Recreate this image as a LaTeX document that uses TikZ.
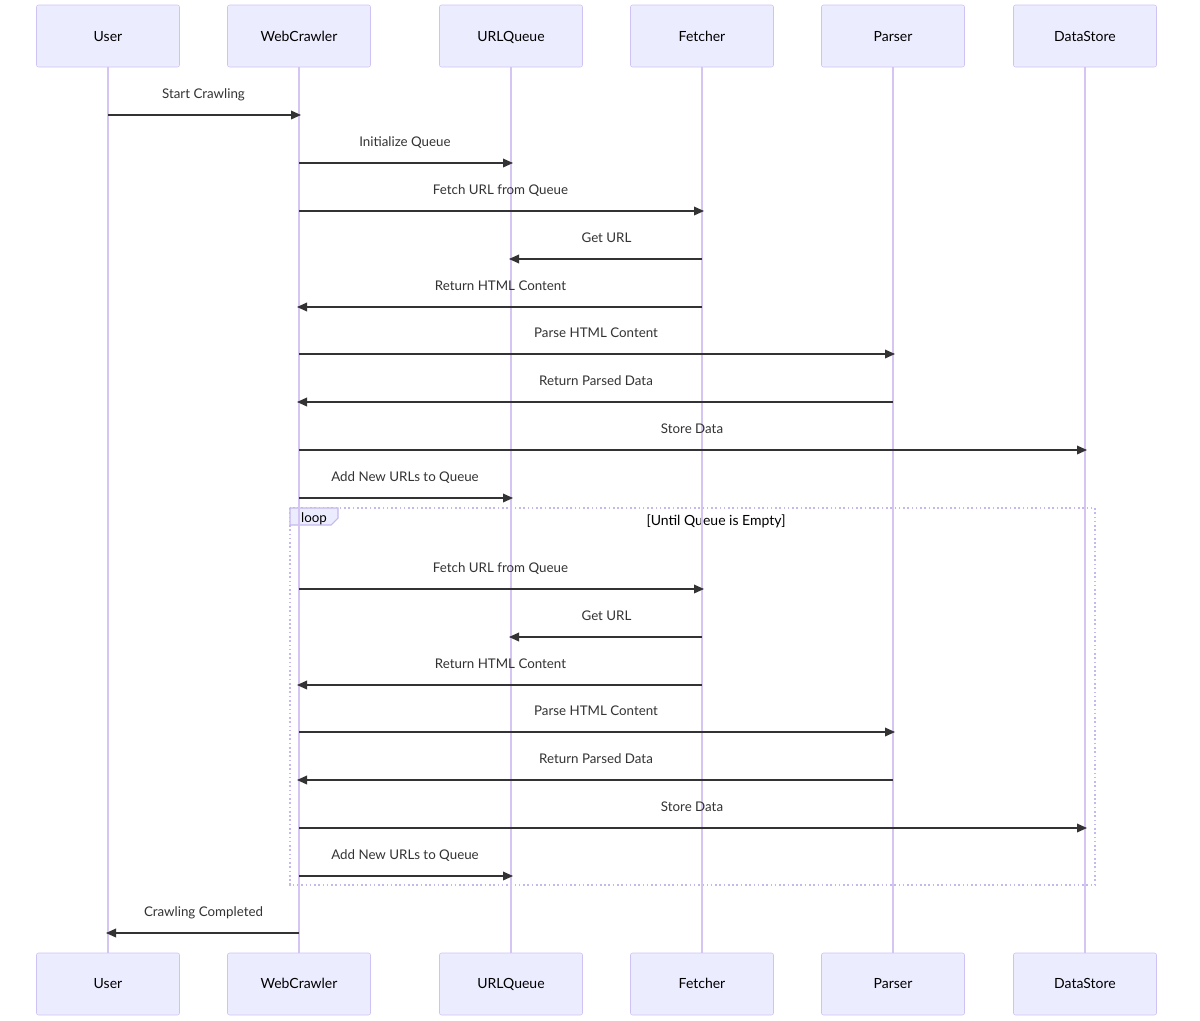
\documentclass[tikz,border=0pt]{standalone}
\usepackage{fontspec}
\setmainfont{Lato}
\usetikzlibrary{arrows.meta,calc}
\definecolor{actfill}{HTML}{ECECFF}
\definecolor{actdraw}{HTML}{CFC3F5}
\definecolor{lifec}{HTML}{D5C5F3}
\definecolor{loopc}{HTML}{C5B8EC}
\definecolor{arr}{HTML}{333333}
\tikzset{
  x=0.75pt,y=-0.75pt,
  actor/.style={draw=actdraw,fill=actfill,rounded corners=1.5pt,minimum width=107.25pt,minimum height=46.5pt,font=\fontsize{10.5}{12}\selectfont,inner sep=0pt,text height=7.5pt,text depth=2pt},
  life/.style={draw=lifec,line width=1.2pt},
  msg/.style={draw=arr,line width=1pt,-{Triangle[length=7.5pt,width=6.5pt]},shorten >=-1.5pt},
  lbl/.style={font=\fontsize{10}{11}\selectfont,text=arr,inner sep=0pt,text height=7.5pt,text depth=2pt}
}
\begin{document}
\begin{tikzpicture}
\useasboundingbox (0,0) rectangle (1200,1021);
\fill[white] (0,0) rectangle (1200,1021);
\def\names{User/108/u,WebCrawler/299/w,URLQueue/511/q,Fetcher/702/f,Parser/893/p,DataStore/1085/d}
% loop box
\draw[draw=loopc,dotted,line width=1.2pt] (290,508) rectangle (1095,885);
\filldraw[draw=loopc,fill=actfill,line width=0.8pt] (290,508) -- (338,508) -- (338,518) -- (331,525) -- (290,525) -- cycle;
\node[lbl,text=black] (looplbl) at (314,519) {loop};
\node[lbl,text=black,font=\fontsize{10.5}{11}\selectfont] (cond) at (716,522) {[Until Queue is Empty]};
\foreach \n/\x/\k in \names {
  \coordinate (\k) at (\x,67);
  \coordinate (\k b) at (\x,953);
  \draw[life] (\k) -- (\k b);
  \node[actor] (\k top) at (\x,36) {};
  \node[actor] (\k bot) at (\x,984) {};
  \node[lbl,font=\fontsize{10.5}{12}\selectfont,text=black] (\k tl) at (\x,38) {\n};
  \node[lbl,font=\fontsize{10.5}{12}\selectfont,text=black] (\k bl) at (\x,985) {\n};
}
\foreach \y/\a/\b/\t [count=\i] in {
 115/u/w/Start Crawling,
 163/w/q/Initialize Queue,
 211/w/f/Fetch URL from Queue,
 259/f/q/Get URL,
 307/f/w/Return HTML Content,
 354/w/p/Parse HTML Content,
 402/p/w/Return Parsed Data,
 450/w/d/Store Data,
 498/w/q/Add New URLs to Queue,
 589/w/f/Fetch URL from Queue,
 637/f/q/Get URL,
 685/f/w/Return HTML Content,
 732/w/p/Parse HTML Content,
 780/p/w/Return Parsed Data,
 828/w/d/Store Data,
 876/w/q/Add New URLs to Queue,
 933/w/u/Crawling Completed} {
  \coordinate (h) at (0,\y);
  \coordinate (s\i) at (\a |- h);
  \coordinate (e\i) at (\b |- h);
  \draw[msg] (s\i) -- (e\i);
  \node[lbl] (m\i) at ($(s\i)!0.5!(e\i)+(0,-20)$) {\t};
}
\end{tikzpicture}
\end{document}
